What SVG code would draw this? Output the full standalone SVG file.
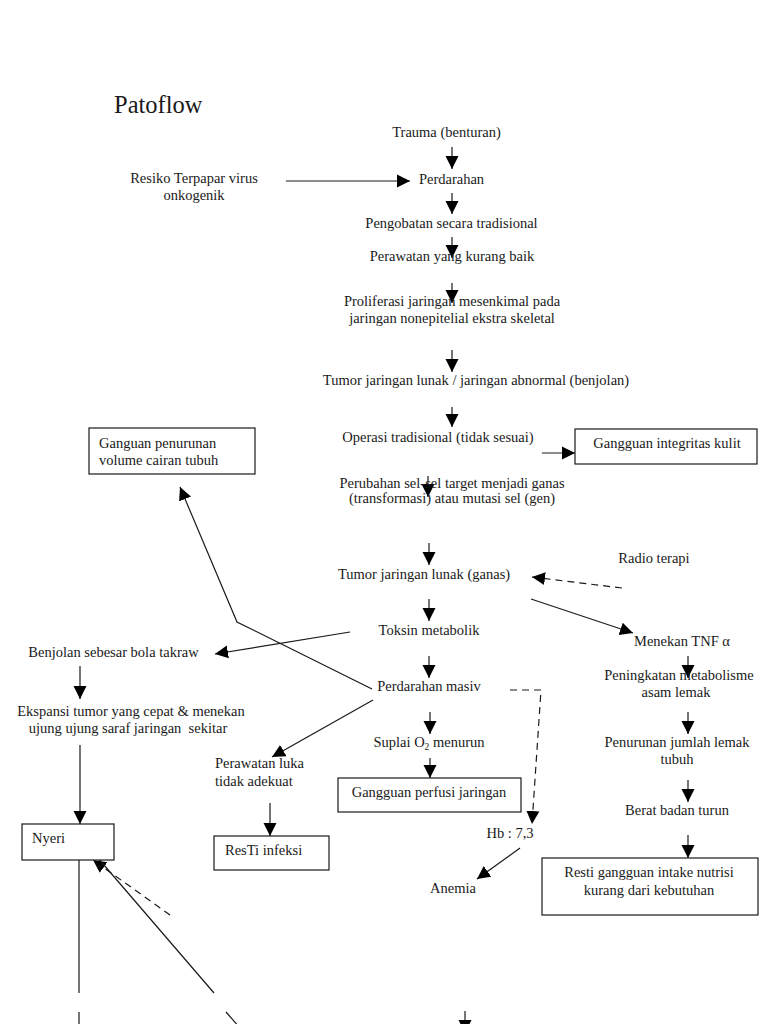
<svg xmlns="http://www.w3.org/2000/svg" width="768" height="1024" viewBox="0 0 768 1024">
<defs>
<style>
text{font-family:"Liberation Serif","Times New Roman",serif;font-size:14.5px;fill:#1a1a1a}
.c{text-anchor:middle}
.title{font-size:24.5px}
.box{fill:#fff;stroke:#1a1a1a;stroke-width:1.2}
.ln{fill:none;stroke:#1a1a1a;stroke-width:1.2}
.ar{marker-end:url(#ah)}
.dash{stroke-dasharray:7 5}
</style>
<marker id="ah" markerUnits="userSpaceOnUse" markerWidth="14" markerHeight="14" viewBox="0 0 14 14" refX="13" refY="7" orient="auto"><path d="M0,0.5 L13,7 L0,13.5 z" fill="#000"/></marker>
</defs>
<rect width="768" height="1024" fill="#fff"/>
<text class="title" x="114" y="113">Patoflow</text>

<g id="connectors">
<path class="ln ar" d="M452,147 V169"/>
<path class="ln ar" d="M452,193 V214"/>
<path class="ln ar" d="M452,237 V258"/>
<path class="ln ar" d="M452,283 V303"/>
<path class="ln ar" d="M452,350 V372"/>
<path class="ln ar" d="M452,407 V427"/>
<path class="ln ar" d="M428,476 V497"/>
<path class="ln ar" d="M429,543 V565"/>
<path class="ln ar" d="M429,599 V621"/>
<path class="ln ar" d="M429,656 V678"/>
<path class="ln ar" d="M430,712 V734"/>
<path class="ln ar" d="M430,758 V778"/>
<path class="ln ar" d="M688,656 V678"/>
<path class="ln ar" d="M688,712 V734"/>
<path class="ln ar" d="M688,780 V802"/>
<path class="ln ar" d="M688,835 V858"/>
<path class="ln ar" d="M80,666 V699"/>
<path class="ln ar" d="M80,745 V824"/>
<path class="ln ar" d="M270,803 V836"/>
<path class="ln ar" d="M286,181 H410"/>
<path class="ln ar" d="M542,453 H575"/>
<path class="ln ar" d="M350,632 L215,654"/>
<path class="ln ar" d="M531,599 L633,633"/>
<path class="ln ar dash" d="M622,588 L532,577"/>
<path class="ln ar" d="M373,700 L272,757"/>
<path class="ln ar" d="M520,848 L477,879"/>
<path class="ln ar" d="M372,689 L237,622 L180,487"/>
<path class="ln ar dash" d="M510,690 H541 L532,824"/>
<path class="ln ar dash" d="M170,915 L93,860"/>
<path class="ln" d="M79,836 V993 M79,1012 V1024 M79,836 L214,993 M226,1012 L240,1028"/>
<path class="ln ar" d="M465,1011 V1033"/>
</g>

<g id="n-trauma"><text class="c" x="446.5" y="137">Trauma (benturan)</text></g>
<g id="n-resiko"><text class="c" x="194" y="183">Resiko Terpapar virus</text><text class="c" x="194" y="200">onkogenik</text></g>
<g id="n-perdarahan"><text class="c" x="451.5" y="184">Perdarahan</text></g>
<g id="n-pengobatan"><text class="c" x="451.5" y="228">Pengobatan secara tradisional</text></g>
<g id="n-perawatan"><text class="c" x="452" y="261">Perawatan yang kurang baik</text></g>
<g id="n-proliferasi"><text class="c" x="452" y="306">Proliferasi jaringan mesenkimal pada</text><text class="c" x="452" y="323">jaringan nonepitelial ekstra skeletal</text></g>
<g id="n-tumor1"><text class="c" x="476" y="385">Tumor jaringan lunak / jaringan abnormal (benjolan)</text></g>
<g id="n-operasi"><text class="c" x="438" y="442">Operasi tradisional (tidak sesuai)</text></g>
<g id="n-integritas"><rect class="box" x="575" y="429" width="182" height="35"/><text class="c" x="667" y="448">Gangguan integritas kulit</text></g>
<g id="n-volume"><rect class="box" x="89" y="428" width="166" height="46"/><text x="99" y="448">Ganguan penurunan</text><text x="99" y="465">volume cairan tubuh</text></g>
<g id="n-perubahan"><text class="c" x="452" y="488">Perubahan sel-sel target menjadi ganas</text><text class="c" x="452" y="503">(transformasi) atau mutasi sel (gen)</text></g>
<g id="n-tumor2"><text class="c" x="424" y="579">Tumor jaringan lunak (ganas)</text></g>
<g id="n-radio"><text class="c" x="654" y="563">Radio terapi</text></g>
<g id="n-tnf"><text class="c" x="682" y="646">Menekan TNF α</text></g>
<g id="n-toksin"><text class="c" x="429" y="635">Toksin metabolik</text></g>
<g id="n-benjolan"><text class="c" x="113.5" y="657">Benjolan sebesar bola takraw</text></g>
<g id="n-metabolisme"><text class="c" x="679" y="680">Peningkatan metabolisme</text><text class="c" x="676" y="697">asam lemak</text></g>
<g id="n-masiv"><text class="c" x="429" y="691">Perdarahan masiv</text></g>
<g id="n-ekspansi"><text class="c" x="131" y="716">Ekspansi tumor yang cepat &amp; menekan</text><text class="c" x="128" y="733" xml:space="preserve">ujung ujung saraf jaringan  sekitar</text></g>
<g id="n-suplai"><text class="c" x="429" y="747">Suplai O<tspan font-size="9.5" dy="3">2</tspan><tspan dy="-3"> menurun</tspan></text></g>
<g id="n-luka"><text x="215" y="768">Perawatan luka</text><text x="215" y="786">tidak adekuat</text></g>
<g id="n-lemak"><text class="c" x="677" y="747">Penurunan jumlah lemak</text><text class="c" x="677" y="764">tubuh</text></g>
<g id="n-perfusi"><rect class="box" x="338" y="778" width="183" height="34"/><text class="c" x="429" y="797">Gangguan perfusi jaringan</text></g>
<g id="n-berat"><text class="c" x="677" y="815">Berat badan turun</text></g>
<g id="n-nyeri"><rect class="box" x="22" y="824" width="92" height="36"/><text x="32" y="843">Nyeri</text></g>
<g id="n-resti-infeksi"><rect class="box" x="214" y="836" width="115" height="34"/><text x="225" y="855">ResTi infeksi</text></g>
<g id="n-hb"><text class="c" x="510" y="838">Hb : 7,3</text></g>
<g id="n-nutrisi"><rect class="box" x="542" y="858" width="216" height="57"/><text class="c" x="649" y="877">Resti gangguan intake nutrisi</text><text class="c" x="649" y="895">kurang dari kebutuhan</text></g>
<g id="n-anemia"><text class="c" x="453" y="893">Anemia</text></g>
</svg>
